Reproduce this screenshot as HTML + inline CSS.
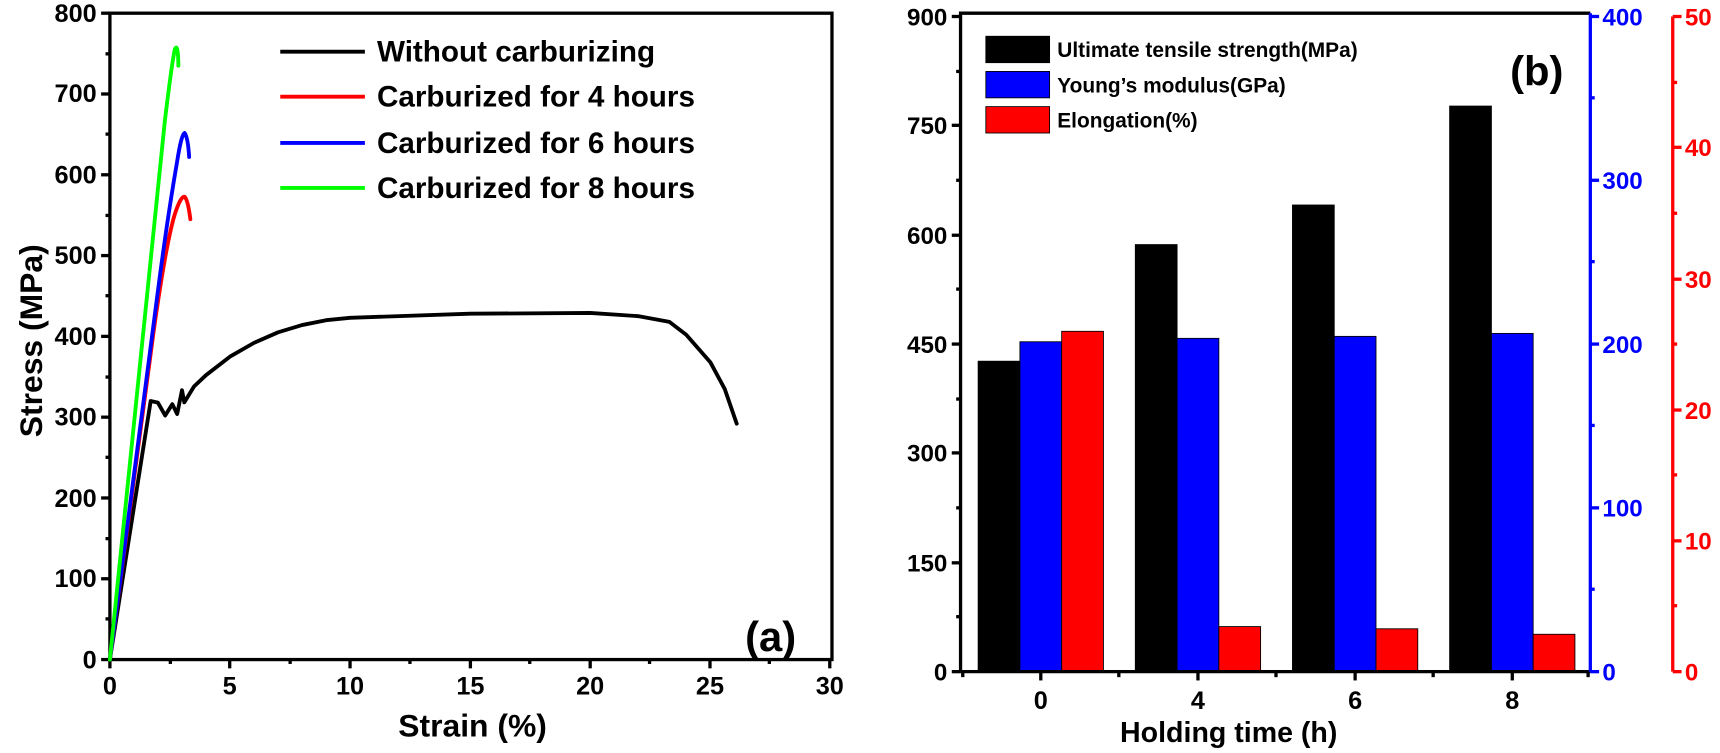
<!DOCTYPE html>
<html><head><meta charset="utf-8"><style>html,body{margin:0;padding:0;background:#fff}svg{display:block}</style></head><body>
<svg width="1720" height="753" viewBox="0 0 1565 685" preserveAspectRatio="none" xmlns="http://www.w3.org/2000/svg" font-family="Liberation Sans, Arial, sans-serif" font-weight="bold">
<!-- Panel (a) -->
<rect x="100" y="12" width="657" height="588" fill="none" stroke="#000" stroke-width="3"/>
<g stroke="#000" stroke-width="3">
<line x1="92" y1="600" x2="100" y2="600"/><line x1="92" y1="526.5" x2="100" y2="526.5"/><line x1="92" y1="453" x2="100" y2="453"/><line x1="92" y1="379.5" x2="100" y2="379.5"/><line x1="92" y1="306" x2="100" y2="306"/><line x1="92" y1="232.5" x2="100" y2="232.5"/><line x1="92" y1="159" x2="100" y2="159"/><line x1="92" y1="85.5" x2="100" y2="85.5"/><line x1="92" y1="12" x2="100" y2="12"/>
<line x1="96" y1="563" x2="100" y2="563"/><line x1="96" y1="490" x2="100" y2="490"/><line x1="96" y1="416" x2="100" y2="416"/><line x1="96" y1="343" x2="100" y2="343"/><line x1="96" y1="269" x2="100" y2="269"/><line x1="96" y1="196" x2="100" y2="196"/><line x1="96" y1="122" x2="100" y2="122"/><line x1="96" y1="49" x2="100" y2="49"/>
<line x1="100" y1="600" x2="100" y2="608"/><line x1="209" y1="600" x2="209" y2="608"/><line x1="318.5" y1="600" x2="318.5" y2="608"/><line x1="428" y1="600" x2="428" y2="608"/><line x1="537" y1="600" x2="537" y2="608"/><line x1="646" y1="600" x2="646" y2="608"/><line x1="755" y1="600" x2="755" y2="608"/>
<line x1="155" y1="600" x2="155" y2="604"/><line x1="264" y1="600" x2="264" y2="604"/><line x1="373" y1="600" x2="373" y2="604"/><line x1="482" y1="600" x2="482" y2="604"/><line x1="591" y1="600" x2="591" y2="604"/><line x1="700" y1="600" x2="700" y2="604"/>
</g>
<g font-size="23" text-anchor="end">
<text x="88" y="608">0</text><text x="88" y="534">100</text><text x="88" y="461">200</text><text x="88" y="387">300</text><text x="88" y="314">400</text><text x="88" y="240">500</text><text x="88" y="167">600</text><text x="88" y="93">700</text><text x="88" y="20">800</text>
</g>
<g font-size="23" text-anchor="middle">
<text x="100" y="632">0</text><text x="209" y="632">5</text><text x="318.5" y="632">10</text><text x="428" y="632">15</text><text x="537" y="632">20</text><text x="646" y="632">25</text><text x="755" y="632">30</text>
</g>
<text x="430" y="670" font-size="29" text-anchor="middle">Strain (%)</text>
<text transform="translate(38,310) rotate(-90)" font-size="29" text-anchor="middle">Stress (MPa)</text>
<text x="678" y="592" font-size="38">(a)</text>
<g fill="none" stroke-width="3.5" stroke-linejoin="round" stroke-linecap="round">
<polyline stroke="#000" points="100,600 137.1,364.8 143.7,366.3 150.3,378 156.8,367.7 161.2,376.6 165.6,355 167.7,366 176.5,351.6 187.4,341.3 209.3,324.4 231.1,311.9 253,302.3 274.8,295.7 296.7,291.3 318.5,289.1 427.8,285.4 537,284.7 580.7,287.6 609.1,292.8 624.4,304.5 646.3,329.5 659.4,353.8 670.3,385.4"/>
<path stroke="#f00" d="M100,600 L140,300 Q152,215 160,192 Q165,178 168,179 Q171,182 173.2,199.4"/>
<path stroke="#00f" d="M100,600 L143,270 Q152,200 161,148 Q165,122 168,121 Q171,125 172.1,142.8"/>
<path stroke="#0f0" d="M100,600 L150,110 Q156,60 159,45 Q162,38 162.3,59.8"/>
</g>
<g stroke-width="3.5">
<line x1="255" y1="47" x2="332" y2="47" stroke="#000"/>
<line x1="255" y1="88" x2="332" y2="88" stroke="#f00"/>
<line x1="255" y1="130" x2="332" y2="130" stroke="#00f"/>
<line x1="255" y1="171" x2="332" y2="171" stroke="#0f0"/>
</g>
<g font-size="27">
<text x="343" y="56">Without carburizing</text>
<text x="343" y="97">Carburized for 4 hours</text>
<text x="343" y="139">Carburized for 6 hours</text>
<text x="343" y="180">Carburized for 8 hours</text>
</g>

<!-- Panel (b) -->
<g stroke="#000" stroke-width="0.8">
<rect x="890" y="328.6" width="38" height="282.4" fill="#000"/>
<rect x="928" y="310.9" width="38" height="300.1" fill="#00f"/>
<rect x="966" y="301.4" width="38" height="309.6" fill="#f00"/>
<rect x="1033" y="222.5" width="38" height="388.5" fill="#000"/>
<rect x="1071" y="307.8" width="38" height="303.2" fill="#00f"/>
<rect x="1109" y="570" width="38" height="41" fill="#f00"/>
<rect x="1176" y="186.5" width="38" height="424.5" fill="#000"/>
<rect x="1214" y="306" width="38" height="305" fill="#00f"/>
<rect x="1252" y="572" width="38" height="39" fill="#f00"/>
<rect x="1319" y="96.5" width="38" height="514.5" fill="#000"/>
<rect x="1357" y="303.3" width="38" height="307.7" fill="#00f"/>
<rect x="1395" y="577" width="38" height="34" fill="#f00"/>
</g>
<polyline points="874,611 874,12 1447,12" fill="none" stroke="#000" stroke-width="3"/>
<line x1="874" y1="611" x2="1447" y2="611" stroke="#000" stroke-width="3"/>
<g stroke="#000" stroke-width="3">
<line x1="866" y1="611" x2="874" y2="611"/><line x1="866" y1="512" x2="874" y2="512"/><line x1="866" y1="412" x2="874" y2="412"/><line x1="866" y1="313" x2="874" y2="313"/><line x1="866" y1="214" x2="874" y2="214"/><line x1="866" y1="114" x2="874" y2="114"/><line x1="866" y1="15" x2="874" y2="15"/>
<line x1="870" y1="561" x2="874" y2="561"/><line x1="870" y1="462" x2="874" y2="462"/><line x1="870" y1="363" x2="874" y2="363"/><line x1="870" y1="263" x2="874" y2="263"/><line x1="870" y1="164" x2="874" y2="164"/><line x1="870" y1="65" x2="874" y2="65"/>
<line x1="947" y1="611" x2="947" y2="619"/><line x1="1090" y1="611" x2="1090" y2="619"/><line x1="1233" y1="611" x2="1233" y2="619"/><line x1="1376" y1="611" x2="1376" y2="619"/>
<line x1="876" y1="611" x2="876" y2="616"/><line x1="1018" y1="611" x2="1018" y2="616"/><line x1="1161" y1="611" x2="1161" y2="616"/><line x1="1304" y1="611" x2="1304" y2="616"/><line x1="1445" y1="611" x2="1445" y2="616"/>
</g>
<g font-size="22" text-anchor="end">
<text x="862" y="619">0</text><text x="862" y="520">150</text><text x="862" y="420">300</text><text x="862" y="321">450</text><text x="862" y="222">600</text><text x="862" y="122">750</text><text x="862" y="23">900</text>
</g>
<g font-size="23" text-anchor="middle">
<text x="947" y="645">0</text><text x="1090" y="645">4</text><text x="1233" y="645">6</text><text x="1376" y="645">8</text>
</g>
<text x="1118" y="675" font-size="26" text-anchor="middle">Holding time (h)</text>
<g stroke="#00f" stroke-width="3">
<line x1="1447" y1="12" x2="1447" y2="611"/>
<line x1="1447" y1="611" x2="1455" y2="611"/><line x1="1447" y1="462" x2="1455" y2="462"/><line x1="1447" y1="313" x2="1455" y2="313"/><line x1="1447" y1="164" x2="1455" y2="164"/><line x1="1447" y1="15" x2="1455" y2="15"/>
<line x1="1447" y1="536" x2="1451" y2="536"/><line x1="1447" y1="387" x2="1451" y2="387"/><line x1="1447" y1="238" x2="1451" y2="238"/><line x1="1447" y1="89" x2="1451" y2="89"/>
</g>
<g font-size="22" fill="#00f">
<text x="1458" y="619">0</text><text x="1458" y="470">100</text><text x="1458" y="321">200</text><text x="1458" y="172">300</text><text x="1458" y="23">400</text>
</g>
<g stroke="#f00" stroke-width="3">
<line x1="1522" y1="15" x2="1522" y2="611"/>
<line x1="1522" y1="611" x2="1530" y2="611"/><line x1="1522" y1="492" x2="1530" y2="492"/><line x1="1522" y1="373" x2="1530" y2="373"/><line x1="1522" y1="254" x2="1530" y2="254"/><line x1="1522" y1="134" x2="1530" y2="134"/><line x1="1522" y1="15" x2="1530" y2="15"/>
<line x1="1522" y1="551" x2="1526" y2="551"/><line x1="1522" y1="432" x2="1526" y2="432"/><line x1="1522" y1="313" x2="1526" y2="313"/><line x1="1522" y1="194" x2="1526" y2="194"/><line x1="1522" y1="75" x2="1526" y2="75"/>
</g>
<g font-size="22" fill="#f00">
<text x="1533" y="619">0</text><text x="1533" y="500">10</text><text x="1533" y="381">20</text><text x="1533" y="262">30</text><text x="1533" y="142">40</text><text x="1533" y="23">50</text>
</g>
<g stroke="#000" stroke-width="0.8">
<rect x="897" y="33" width="58" height="24" fill="#000"/>
<rect x="897" y="65" width="58" height="24" fill="#00f"/>
<rect x="897" y="97" width="58" height="24" fill="#f00"/>
</g>
<g font-size="19">
<text x="962" y="52">Ultimate tensile strength(MPa)</text>
<text x="962" y="84">Young’s modulus(GPa)</text>
<text x="962" y="116">Elongation(%)</text>
</g>
<text x="1374" y="78" font-size="38">(b)</text>
</svg>
</body></html>
